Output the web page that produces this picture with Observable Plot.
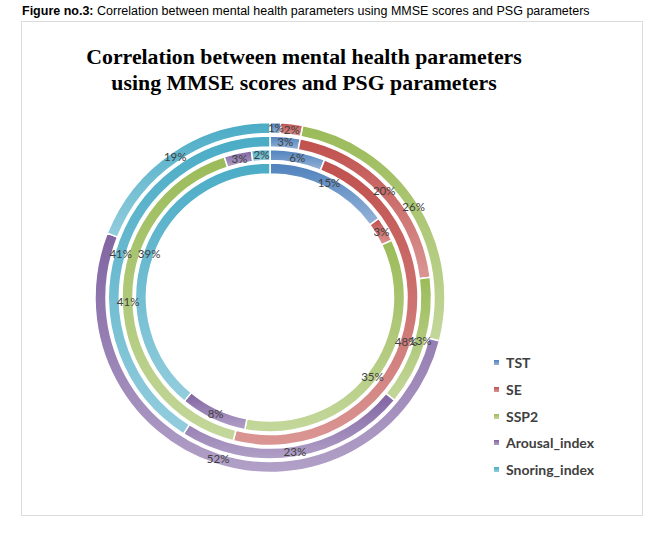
<!DOCTYPE html>
<html>
<head>
<meta charset="utf-8">
<script src="https://cdn.jsdelivr.net/npm/d3@7"></script>
<script src="https://cdn.jsdelivr.net/npm/@observablehq/plot@0.6"></script>
<style>
  html, body { margin: 0; padding: 0; background: #fff; }
  #page { position: relative; width: 661px; height: 534px; overflow: hidden; }
  #caption { position: absolute; left: 22px; top: 4px; font-family: "Liberation Sans", sans-serif; font-size: 12.5px; color: #000; white-space: nowrap; }
  #caption b { font-weight: bold; }
  #box { position: absolute; left: 21px; top: 21px; width: 620px; height: 493px; border: 1px solid #dcdcdc; }
  #title { position: absolute; left: 54px; width: 500px; top: 44px; text-align: center; font-family: "Liberation Serif", serif; font-weight: bold; font-size: 21.8px; line-height: 26px; color: #000; white-space: nowrap; }
  #chart { position: absolute; left: 0; top: 0; }
  #legend { position: absolute; left: 494px; top: 353px; font-family: Lato, sans-serif; font-weight: bold; font-size: 14px; color: #404040; }
  .item { height: 26.75px; line-height: 20px; white-space: nowrap; }
  .sw { display: inline-block; width: 5px; height: 5px; margin-right: 7px; vertical-align: 3px; }
</style>
</head>
<body>
<div id="page">
  <div id="caption"><b>Figure no.3:</b> Correlation between mental health parameters using MMSE scores and PSG parameters</div>
  <div id="box"></div>
  <div id="chart"></div>
  <div id="title">Correlation between mental health parameters<br>using MMSE scores and PSG parameters</div>
  <div id="legend"></div>
</div>
<script>
// ---- data ----
const series = ["TST", "SE", "SSP2", "Arousal_index", "Snoring_index"];
// rings from innermost to outermost (percent of each ring)
const ring1 = [15, 3, 35, 8, 39];
const ring2 = [6, 48, 41, 3, 2];
const ring3 = [3, 20, 13, 23, 41];
const ring4 = [1, 2, 26, 52, 19];
const rings = [ring1, ring2, ring3, ring4];

// ---- style ----
const darkColors = ["#4F81BD", "#C0504D", "#9BBB59", "#8064A2", "#4BACC6"];
const lightColors = ["#95B3D7", "#DA9694", "#C4D79B", "#B1A0C7", "#93CDDD"];
const R = 175;                       // pixels per radius unit
const ringOuter = [134.5, 148, 161.5, 175].map(v => v / R);
const ringThick = 11 / R;

// ---- build segments ----
const segments = [];
rings.forEach((vals, i) => {
  const total = d3.sum(vals);
  let acc = 0;
  vals.forEach((v, j) => {
    const a0 = acc / total * 2 * Math.PI;
    acc += v;
    const a1 = acc / total * 2 * Math.PI;
    const r1 = ringOuter[i], r0 = r1 - ringThick;
    const mid = (a0 + a1) / 2, rm = (r0 + r1) / 2;
    segments.push({ring: i, j, series: series[j], value: v, pct: Math.round(v / total * 100) + "%",
      a0, a1, r0, r1, lx: rm * Math.sin(mid), ly: rm * Math.cos(mid)});
  });
});

const W = 661, H = 534, cx = 270, cy = 297.5;

const arcMark = (index, scales) => {
  const g = d3.create("svg:g");
  const defs = g.append("defs");
  series.forEach((s, j) => {
    const lg = defs.append("linearGradient").attr("id", "grad" + j)
      .attr("x1", 0).attr("y1", 0).attr("x2", 0).attr("y2", 1);
    lg.append("stop").attr("offset", "0%").attr("stop-color", darkColors[j]);
    lg.append("stop").attr("offset", "100%").attr("stop-color", lightColors[j]);
  });
  const x0 = scales.x(0), y0 = scales.y(0), k = scales.x(1) - scales.x(0);
  const arc = d3.arc();
  g.append("g").attr("transform", `translate(${x0},${y0})`)
    .selectAll("path").data(segments).join("path")
    .attr("d", d => arc({innerRadius: d.r0 * k, outerRadius: d.r1 * k, startAngle: d.a0, endAngle: d.a1}))
    .attr("fill", d => `url(#grad${d.j})`)
    .attr("stroke", "#fff").attr("stroke-width", 1.5);
  return g.node();
};

const chart = Plot.plot({
  width: W, height: H,
  margin: 0,
  x: {domain: [-cx / R, (W - cx) / R], axis: null},
  y: {domain: [-(H - cy) / R, cy / R], axis: null},
  style: {fontFamily: "Lato, sans-serif", background: "transparent"},
  marks: [
    arcMark,
    Plot.text(segments, {x: "lx", y: "ly", text: "pct", fill: "#404040", fontSize: 11.5})
  ]
});
document.getElementById("chart").appendChild(chart);

// legend
const legend = d3.select("#legend");
series.forEach((s, j) => {
  const it = legend.append("div").attr("class", "item");
  it.append("span").attr("class", "sw").style("background", `linear-gradient(${darkColors[j]}, ${lightColors[j]})`);
  it.append("span").text(s);
});
</script>
</body>
</html>
